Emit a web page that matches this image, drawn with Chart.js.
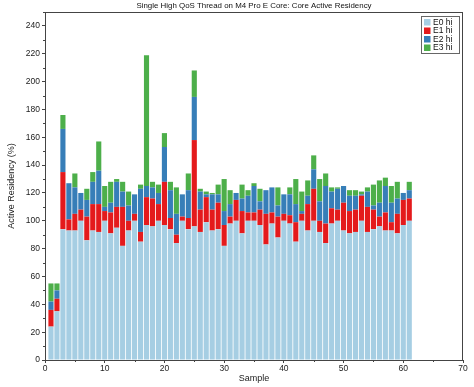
<!DOCTYPE html>
<html><head><meta charset="utf-8">
<script src="https://cdn.jsdelivr.net/npm/chart.js@4/dist/chart.umd.min.js"></script>
<style>html,body{margin:0;padding:0;background:#fff}</style>
</head><body>
<canvas id="c" width="474" height="387"></canvas>
<script>
const chartTitle = "Single High QoS Thread on M4 Pro E Core: Core Active Residency";
const samples = [1,2,3,4,5,6,7,8,9,10,11,12,13,14,15,16,17,18,19,20,21,22,23,24,25,26,27,28,29,30,31,32,33,34,35,36,37,38,39,40,41,42,43,44,45,46,47,48,49,50,51,52,53,54,55,56,57,58,59,60,61];
const seriesNames = ["E0 hi","E1 hi","E2 hi","E3 hi"];
const e0 = [24,35,94,93,93,100,86,93,92,100, 91,95,82,93,100,85,97,96,100,97, 94,84,100,94,96,92,99,93,94,82, 98,100,91,100,100,97,83,98,88,100, 98,85,100,93,100,92,84,98,100,93, 91,92,100,92,94,96,93,93,91,97,100];
const e1 = [12,9,41,8,12,8,17,19,20,7, 15,15,28,7,5,7,20,20,12,31, 8,6,3,8,62,16,18,15,19,15, 5,15,16,6,6,11,22,8,15,5, 6,14,5,19,23,8,14,11,8,20, 16,16,18,18,14,7,13,6,14,18,16];
const e2 = [6,6,31,26,19,12,12,16,24,3, 7,18,11,11,14,31,8,8,8,25, 20,15,16,20,31,13,2,11,6,10, 9,5,9,12,19,6,17,18,8,14, 15,13,2,6,14,14,27,12,15,12, 11,10,1,11,3,10,19,14,11,5,6];
const e3 = [13,5,10,0,10,0,8,7,21,15, 15,2,7,10,0,3,94,4,6,10, 6,19,0,12,19,2,2,1,7,23, 10,0,10,4,2,9,0,0,13,0, 5,18,14,11,10,16,9,3,1,0, 4,4,2,3,15,16,6,12,12,0,6];
const xTicks = [0,10,20,30,40,50,60,70];
const yTicks = [0,20,40,60,80,100,120,140,160,180,200,220,240];
const colors = ["#a6cee3","#e41a1c","#377eb8","#4daf4a"];

const FONT = "'Liberation Sans', Arial, Helvetica, sans-serif";
const series = [e0,e1,e2,e3];
const datasets = series.map((vals,i)=>({
  label: seriesNames[i],
  data: samples.map((s,j)=>({x:s,y:vals[j]})),
  backgroundColor: colors[i],
  borderWidth: 0,
  categoryPercentage: 1,
  barPercentage: 0.86,
  stack: 's'
}));

const framePlugin = {
  id:'frame',
  afterDraw(chart){
    const {ctx, chartArea:a, scales} = chart;
    ctx.save();
    ctx.strokeStyle = '#444'; ctx.lineWidth = 1;
    ctx.strokeRect(a.left+0.5, a.top+0.5, a.right-a.left-1, a.bottom-a.top);
    ctx.beginPath();
    const ys = scales.y, xs = scales.x;
    for (let i=0;i<yTicks.length-1;i++){
      const v=(yTicks[i]+yTicks[i+1])/2; const p=Math.round(ys.getPixelForValue(v))+0.5;
      ctx.moveTo(a.left-2,p); ctx.lineTo(a.left,p);
    }
    const lastY = yTicks[yTicks.length-1]+ (yTicks[1]-yTicks[0])/2;
    if (lastY<=ys.max){const p=Math.round(ys.getPixelForValue(lastY))+0.5; ctx.moveTo(a.left-2,p); ctx.lineTo(a.left,p);}
    for (let i=0;i<xTicks.length-1;i++){
      const v=(xTicks[i]+xTicks[i+1])/2; const p=Math.round(xs.getPixelForValue(v))+0.5;
      ctx.moveTo(p,a.bottom); ctx.lineTo(p,a.bottom+2);
    }
    ctx.stroke();
    ctx.fillStyle='#111'; ctx.font = '7.9px '+FONT; ctx.textAlign='center'; ctx.textBaseline='middle';
    ctx.fillText(chartTitle,(a.left+a.right)/2,6);
    const bx=a.right-42, by=a.top+4, bw=38, bh=37;
    ctx.fillStyle='#fff'; ctx.fillRect(bx,by,bw,bh);
    ctx.strokeStyle='#666'; ctx.strokeRect(bx+0.5,by+0.5,bw,bh);
    ctx.font='8.5px '+FONT; ctx.textAlign='left';
    chart.data.datasets.forEach((d,i)=>{
      const cy = by+6+i*8.5;
      ctx.fillStyle=d.backgroundColor; ctx.fillRect(bx+3,cy-3,6.5,6.5);
      ctx.fillStyle='#111'; ctx.fillText(d.label,bx+12,cy+0.5);
    });
    ctx.restore();
  }
};

new Chart(document.getElementById('c'),{
  type:'bar',
  data:{datasets},
  options:{
    responsive:false, animation:false,
    layout:{padding:{top:12,right:11,left:0,bottom:0}},
    plugins:{legend:{display:false},title:{display:false},tooltip:{enabled:false}},
    scales:{
      x:{type:'linear',stacked:true,min:0,max:70,offset:false,
         afterFit(s){s.height=27;},
         ticks:{stepSize:10,color:'#222',font:{size:8.5,family:FONT},padding:1,maxRotation:0},
         grid:{display:true,drawOnChartArea:false,drawTicks:true,tickLength:3,tickColor:'#444',offset:false},
         border:{display:true,color:'#444'},
         title:{display:true,text:'Sample',color:'#222',font:{size:9,family:FONT},padding:{top:2,bottom:3}}},
      y:{stacked:true,min:0,max:250,
         afterFit(s){s.width=45;},
         ticks:{stepSize:20,includeBounds:false,color:'#222',font:{size:8.5,family:FONT},padding:2},
         grid:{display:true,drawOnChartArea:false,drawTicks:true,tickLength:3,tickColor:'#444'},
         border:{display:true,color:'#444'},
         title:{display:true,text:'Active Residency (%)',color:'#222',font:{size:9,family:FONT},padding:{top:6,bottom:2}}}
    }
  },
  plugins:[framePlugin]
});
</script>
</body></html>
